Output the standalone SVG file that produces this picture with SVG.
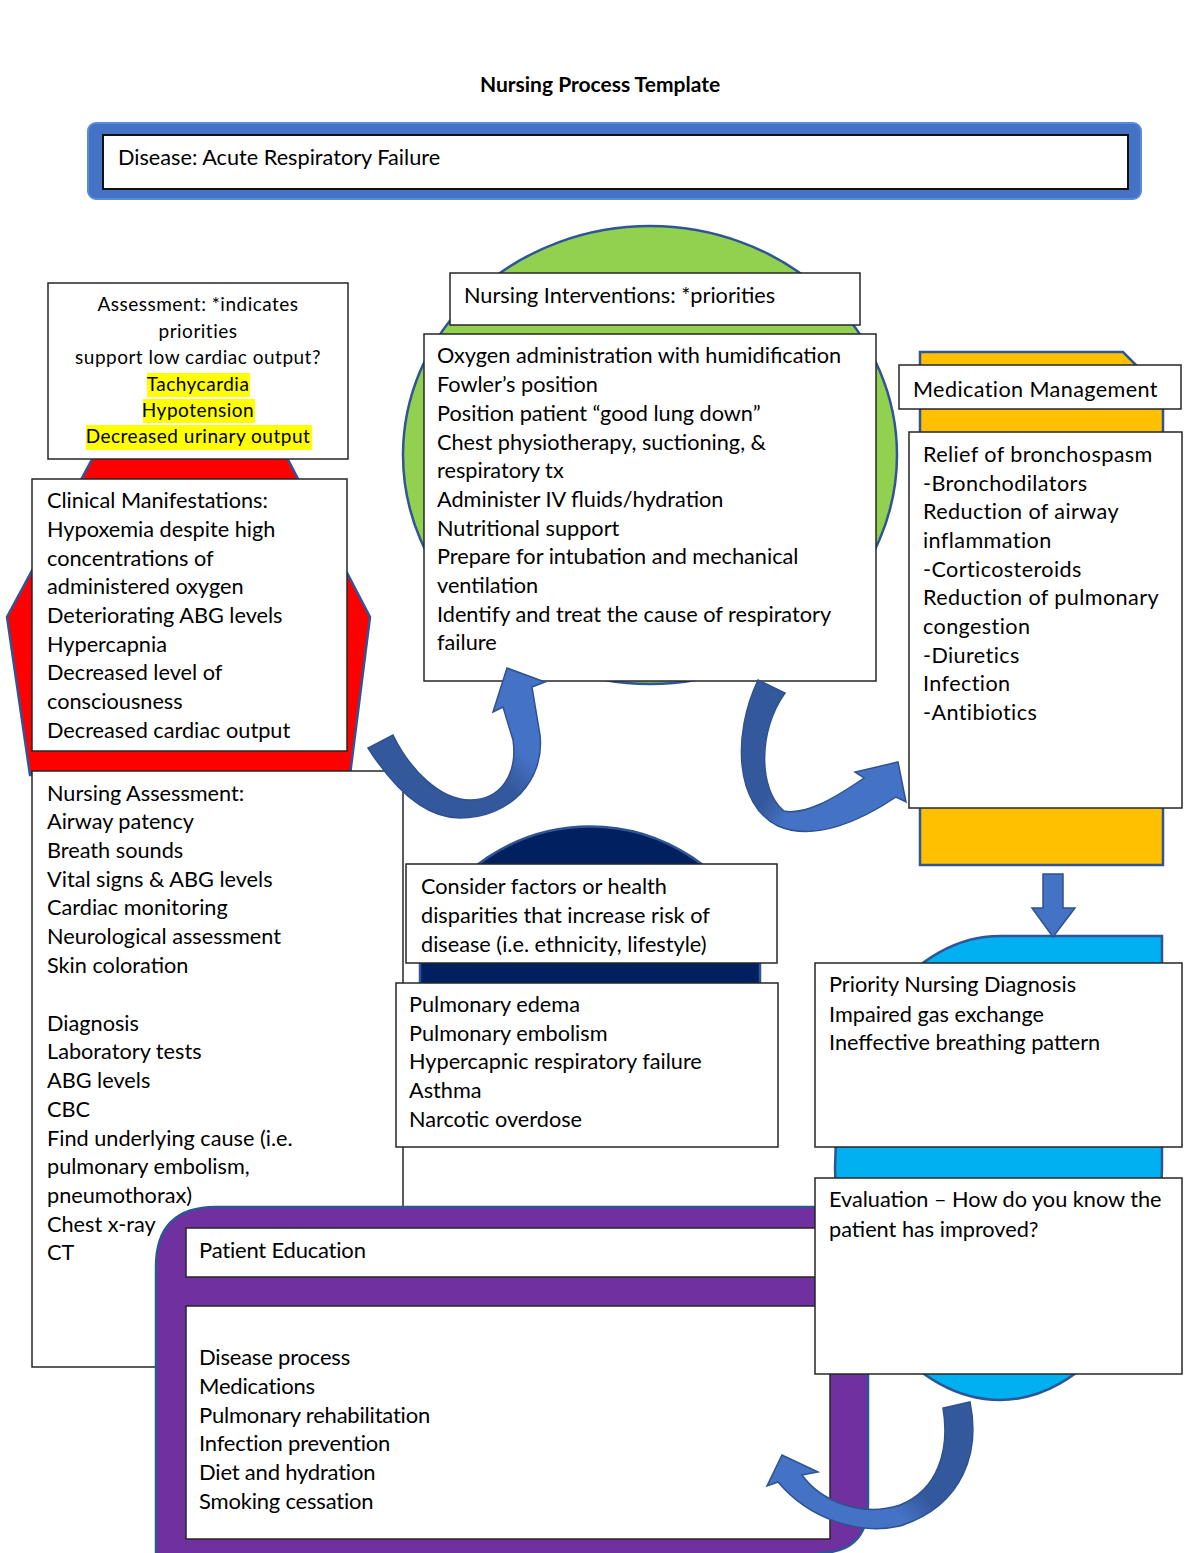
<svg xmlns="http://www.w3.org/2000/svg" width="1200" height="1553" viewBox="0 0 1200 1553">
<defs>
<style>
.box{fill:#fff;stroke:#262626;stroke-width:1.5}
.t{font-family:Lato,"Liberation Sans",sans-serif;font-size:21.7px;fill:#000}
.tm{font-family:Lato,"Liberation Sans",sans-serif;font-size:21.6px;fill:#000;letter-spacing:0.4px}
.ta{font-family:Lato,"Liberation Sans",sans-serif;font-size:19px;fill:#000;text-anchor:middle;letter-spacing:0.5px}
.tc{font-family:Lato,"Liberation Sans",sans-serif;font-size:22px;fill:#000;letter-spacing:-0.2px}
.shape{stroke:#2F5597;stroke-width:2.5}
.arr{stroke:#2F528F;stroke-width:1.5}
.hl{fill:#FFFF00}
</style>
<linearGradient id="g1" x1="0" y1="1" x2="1" y2="0">
<stop offset="0" stop-color="#34589C"/><stop offset="0.5" stop-color="#34589C"/><stop offset="0.65" stop-color="#4472C4"/><stop offset="1" stop-color="#4472C4"/>
</linearGradient>
<linearGradient id="g2" x1="0" y1="0" x2="1" y2="0.6">
<stop offset="0" stop-color="#34589C"/><stop offset="0.45" stop-color="#34589C"/><stop offset="0.6" stop-color="#4472C4"/><stop offset="1" stop-color="#4472C4"/>
</linearGradient>
<linearGradient id="g4" x1="1" y1="0" x2="0" y2="0.6">
<stop offset="0" stop-color="#34589C"/><stop offset="0.5" stop-color="#34589C"/><stop offset="0.65" stop-color="#4472C4"/><stop offset="1" stop-color="#4472C4"/>
</linearGradient>
</defs>
<rect width="1200" height="1553" fill="#fff"/>

<g id="title">
<text x="600" y="92" text-anchor="middle" style="font-family:Lato,'Liberation Sans',sans-serif;font-size:21px;font-weight:bold">Nursing Process Template</text>
</g>

<g id="disease">
<rect x="88" y="123" width="1053" height="76" rx="8" fill="#4472C4" stroke="#5B8BD6" stroke-width="2"/>
<rect x="103" y="135" width="1025" height="54" fill="#fff" stroke="#111" stroke-width="2"/>
<text class="t" x="118" y="165">Disease: Acute Respiratory Failure</text>
</g>

<g id="backgrounds">
<ellipse cx="650" cy="455" rx="247" ry="229" fill="#92D050" class="shape"/>
<polygon points="96,452 284,452 370,617 350,775 30,775 7,617" fill="#FF0000" class="shape"/>
<path d="M920,352 L1123,352 L1163,392 L1163,865 L920,865 Z" fill="#FFC000" class="shape"/>
<path d="M420,990 L420,940 A184,184 0 0 1 760,940 L760,990 Z" fill="#002060" class="shape"/>
<path d="M1000,936 L1162,936 L1162,1168 A162,232 0 0 1 1000,1400 A165,232 0 0 1 835,1168 A165,232 0 0 1 1000,936 Z" fill="#00B0F0" class="shape"/>
</g>

<g id="assessment">
<rect class="box" x="48" y="283" width="300" height="176"/>
<rect class="hl" x="147" y="373" width="103" height="24"/>
<rect class="hl" x="143" y="399" width="112" height="24"/>
<rect class="hl" x="86" y="425" width="226" height="25"/>
<text class="ta" x="198" y="311">Assessment: *indicates</text>
<text class="ta" x="198" y="338">priorities</text>
<text class="ta" x="198" y="364">support low cardiac output?</text>
<text class="ta" x="198" y="391">Tachycardia</text>
<text class="ta" x="198" y="417">Hypotension</text>
<text class="ta" x="198" y="443">Decreased urinary output</text>
</g>

<g id="clinical">
<rect class="box" x="32" y="479" width="315" height="272"/>
<text class="t" x="47" y="508">Clinical Manifestations:</text>
<text class="t" x="47" y="537">Hypoxemia despite high</text>
<text class="t" x="47" y="566">concentrations of</text>
<text class="t" x="47" y="594">administered oxygen</text>
<text class="t" x="47" y="623">Deteriorating ABG levels</text>
<text class="t" x="47" y="652">Hypercapnia</text>
<text class="t" x="47" y="680">Decreased level of</text>
<text class="t" x="47" y="709">consciousness</text>
<text class="t" x="47" y="738">Decreased cardiac output</text>
</g>

<g id="nursing-assessment">
<rect class="box" x="32" y="771" width="371" height="596"/>
<text class="t" x="47" y="801">Nursing Assessment:</text>
<text class="t" x="47" y="829">Airway patency</text>
<text class="t" x="47" y="858">Breath sounds</text>
<text class="t" x="47" y="887">Vital signs &amp; ABG levels</text>
<text class="t" x="47" y="915">Cardiac monitoring</text>
<text class="t" x="47" y="944">Neurological assessment</text>
<text class="t" x="47" y="973">Skin coloration</text>
<text class="t" x="47" y="1031">Diagnosis</text>
<text class="t" x="47" y="1059">Laboratory tests</text>
<text class="t" x="47" y="1088">ABG levels</text>
<text class="t" x="47" y="1117">CBC</text>
<text class="t" x="47" y="1146">Find underlying cause (i.e.</text>
<text class="t" x="47" y="1174">pulmonary embolism,</text>
<text class="t" x="47" y="1203">pneumothorax)</text>
<text class="t" x="47" y="1232">Chest x-ray</text>
<text class="t" x="47" y="1260">CT</text>
</g>

<g id="interventions">
<rect class="box" x="450" y="273" width="410" height="52"/>
<text class="t" x="464" y="303">Nursing Interventions: *priorities</text>
<rect class="box" x="424" y="334" width="452" height="347"/>
<text class="t" x="437" y="363">Oxygen administration with humidification</text>
<text class="t" x="437" y="392">Fowler’s position</text>
<text class="t" x="437" y="421">Position patient “good lung down”</text>
<text class="t" x="437" y="450">Chest physiotherapy, suctioning, &amp;</text>
<text class="t" x="437" y="478">respiratory tx</text>
<text class="t" x="437" y="507">Administer IV fluids/hydration</text>
<text class="t" x="437" y="536">Nutritional support</text>
<text class="t" x="437" y="564">Prepare for intubation and mechanical</text>
<text class="t" x="437" y="593">ventilation</text>
<text class="t" x="437" y="622">Identify and treat the cause of respiratory</text>
<text class="t" x="437" y="650">failure</text>
</g>

<g id="medication">
<rect class="box" x="899" y="365" width="282" height="44"/>
<text class="tm" x="913" y="397">Medication Management</text>
<rect class="box" x="909" y="432" width="273" height="376"/>
<text class="tm" x="923" y="462">Relief of bronchospasm</text>
<text class="tm" x="923" y="491">-Bronchodilators</text>
<text class="tm" x="923" y="519">Reduction of airway</text>
<text class="tm" x="923" y="548">inflammation</text>
<text class="tm" x="923" y="577">-Corticosteroids</text>
<text class="tm" x="923" y="605">Reduction of pulmonary</text>
<text class="tm" x="923" y="634">congestion</text>
<text class="tm" x="923" y="663">-Diuretics</text>
<text class="tm" x="923" y="691">Infection</text>
<text class="tm" x="923" y="720">-Antibiotics</text>
</g>

<g id="factors">
<rect class="box" x="406" y="864" width="371" height="99"/>
<text class="t" x="421" y="894">Consider factors or health</text>
<text class="t" x="421" y="923">disparities that increase risk of</text>
<text class="t" x="421" y="952">disease (i.e. ethnicity, lifestyle)</text>
</g>

<g id="causes">
<rect class="box" x="396" y="983" width="382" height="164"/>
<text class="t" x="409" y="1012">Pulmonary edema</text>
<text class="t" x="409" y="1041">Pulmonary embolism</text>
<text class="t" x="409" y="1069">Hypercapnic respiratory failure</text>
<text class="t" x="409" y="1098">Asthma</text>
<text class="t" x="409" y="1127">Narcotic overdose</text>
</g>

<g id="patient-education">
<path d="M156,1560 L156,1267 Q156,1207 216,1207 L868,1207 L868,1503 Q868,1553 818,1553 L818,1560 Z" fill="#7030A0" class="shape"/>
<rect class="box" x="186" y="1228" width="640" height="49"/>
<text class="tc" x="199" y="1258">Patient Education</text>
<rect class="box" x="186" y="1306" width="644" height="233"/>
<text class="tc" x="199" y="1365">Disease process</text>
<text class="tc" x="199" y="1394">Medications</text>
<text class="tc" x="199" y="1423">Pulmonary rehabilitation</text>
<text class="tc" x="199" y="1451">Infection prevention</text>
<text class="tc" x="199" y="1480">Diet and hydration</text>
<text class="tc" x="199" y="1509">Smoking cessation</text>
</g>

<g id="diagnosis">
<rect class="box" x="815" y="963" width="367" height="184"/>
<text class="t" x="829" y="992">Priority Nursing Diagnosis</text>
<text class="t" x="829" y="1022">Impaired gas exchange</text>
<text class="t" x="829" y="1050">Ineffective breathing pattern</text>
</g>

<g id="evaluation">
<rect class="box" x="815" y="1178" width="367" height="196"/>
<text class="t" x="829" y="1207">Evaluation – How do you know the</text>
<text class="t" x="829" y="1237">patient has improved?</text>
</g>

<g id="connectors">
<path class="arr" fill="url(#g1)" d="M368,748 C395,790 425,818 460,818 C510,818 545,780 540,735 L532,687 L545,682 L507,668 L493,712 L503,707 L513,740 C518,775 500,800 470,800 C440,800 410,770 393,735 Z"/>
<path class="arr" fill="url(#g2)" d="M758,680 C732,735 735,805 778,826 C815,842 862,820 896,797 L906,802 L898,762 L855,772 L864,778 C832,800 805,815 784,811 C758,790 758,730 785,693 Z"/>
<path class="arr" fill="#4472C4" d="M1043,874 L1063,874 L1063,908 L1075,908 L1053,937 L1032,908 L1043,908 Z"/>
<path class="arr" fill="url(#g4)" d="M970,1402 C980,1450 965,1505 900,1526 C860,1535 810,1520 778,1482 L767,1486 L782,1455 L818,1472 L802,1475 C820,1500 860,1518 900,1505 C938,1490 950,1450 943,1408 Z"/>
</g>
</svg>
